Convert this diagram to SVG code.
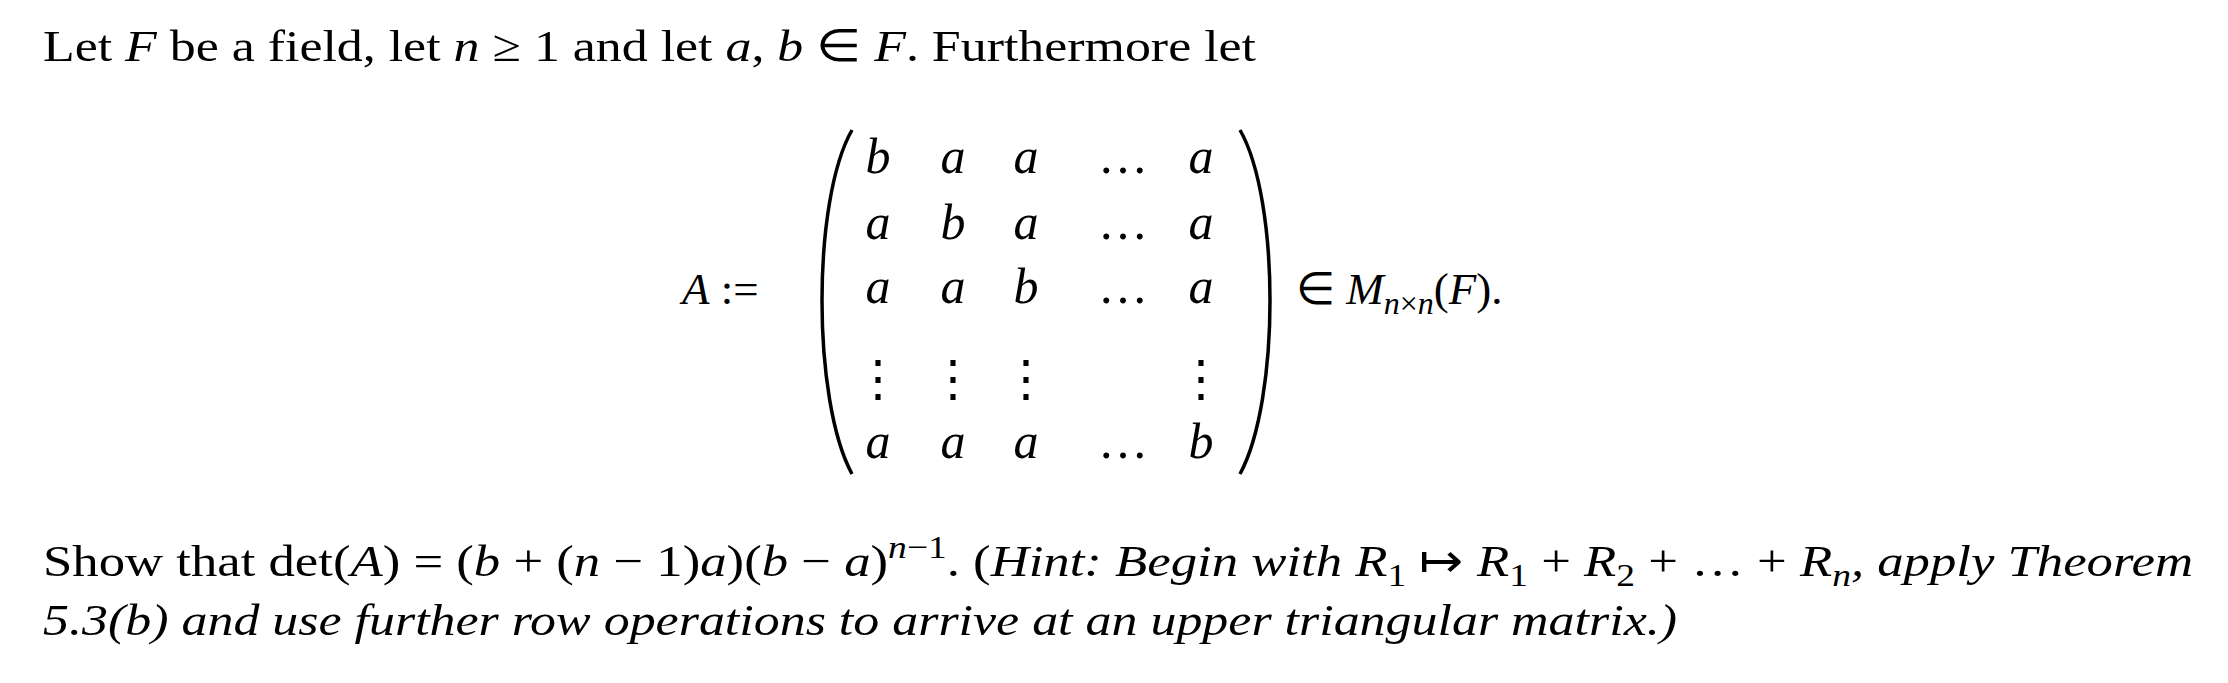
<svg xmlns="http://www.w3.org/2000/svg" width="2228" height="683" viewBox="0 0 2228 683">
<style>
text{font-family:"Liberation Serif","Times New Roman",Times,serif;font-size:45px;fill:#000}
.i{font-style:italic}
.m text{text-anchor:middle;font-style:italic;font-size:50px}
.p{fill:none;stroke:#000;stroke-width:3.5}
</style>
<rect width="2228" height="683" fill="#fff"/>
<g id="line1"><text x="43" y="61" textLength="1213" lengthAdjust="spacingAndGlyphs">Let <tspan class="i">F</tspan> be a field, let <tspan class="i">n</tspan> ≥ 1 and let <tspan class="i">a</tspan>, <tspan class="i">b</tspan> ∈ <tspan class="i">F</tspan>. Furthermore let</text></g>
<g id="matrix">
<text x="682" y="304"><tspan class="i">A</tspan> :=</text>
<path class="p" d="M852,130 C812,200 812,400 852,474"/>
<path class="p" d="M1240,130 C1280,200 1280,400 1240,474"/>
<g class="m">
<text x="878" y="173">b</text><text x="953" y="173">a</text><text x="1026" y="173">a</text><text x="1123" y="173" style="font-style:normal">…</text><text x="1201" y="173">a</text>
<text x="878" y="239">a</text><text x="953" y="239">b</text><text x="1026" y="239">a</text><text x="1123" y="239" style="font-style:normal">…</text><text x="1201" y="239">a</text>
<text x="878" y="303">a</text><text x="953" y="303">a</text><text x="1026" y="303">b</text><text x="1123" y="303" style="font-style:normal">…</text><text x="1201" y="303">a</text>
<text x="878" y="395" style="font-style:normal">⋮</text><text x="953" y="395" style="font-style:normal">⋮</text><text x="1026" y="395" style="font-style:normal">⋮</text><text x="1201" y="395" style="font-style:normal">⋮</text>
<text x="878" y="458">a</text><text x="953" y="458">a</text><text x="1026" y="458">a</text><text x="1123" y="458" style="font-style:normal">…</text><text x="1201" y="458">b</text>
</g>
<text x="1296" y="304">∈ <tspan class="i">M</tspan><tspan class="i" font-size="32" dy="10">n</tspan><tspan font-size="32">×</tspan><tspan class="i" font-size="32">n</tspan><tspan dy="-10">(</tspan><tspan class="i">F</tspan>).</text>
</g>
<g id="line2"><text x="43" y="576" textLength="2150" lengthAdjust="spacingAndGlyphs">Show that det(<tspan class="i">A</tspan>) = (<tspan class="i">b</tspan> + (<tspan class="i">n</tspan> − 1)<tspan class="i">a</tspan>)(<tspan class="i">b</tspan> − <tspan class="i">a</tspan>)<tspan class="i" font-size="32" dy="-18">n</tspan><tspan font-size="32">−1</tspan><tspan dy="18">. (</tspan><tspan class="i">Hint: Begin with R</tspan><tspan font-size="32" dy="10">1</tspan><tspan dy="-10"> ↦ </tspan><tspan class="i">R</tspan><tspan font-size="32" dy="10">1</tspan><tspan dy="-10"> + </tspan><tspan class="i">R</tspan><tspan font-size="32" dy="10">2</tspan><tspan dy="-10"> + … + </tspan><tspan class="i">R</tspan><tspan class="i" font-size="32" dy="10">n</tspan><tspan class="i" dy="-10">, apply Theorem</tspan></text></g>
<g id="line3"><text class="i" x="43" y="635" textLength="1634" lengthAdjust="spacingAndGlyphs">5.3(b) and use further row operations to arrive at an upper triangular matrix.)</text></g>
</svg>
